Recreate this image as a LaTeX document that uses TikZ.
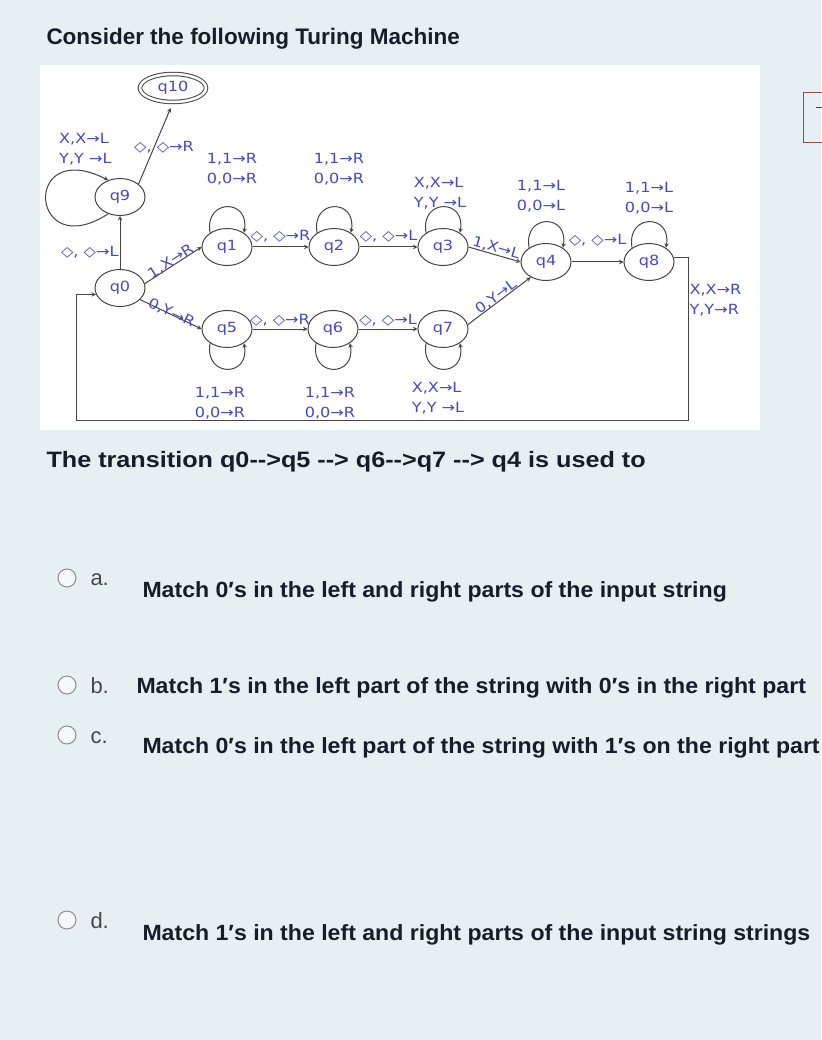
\documentclass[tikz,border=0pt]{standalone}
\usepackage{fontspec}
\setmainfont{Liberation Sans}
\newfontfamily\tmfont{DejaVu Sans}[FakeStretch=1.15]
\newfontfamily\askfont{Liberation Sans}[FakeStretch=1.13]
\newfontfamily\optfont{Liberation Sans}[FakeStretch=1.05]
\usetikzlibrary{shapes,arrows}
\usetikzlibrary{positioning,automata}
\definecolor{pagebg}{HTML}{E6F0F3}
\definecolor{tmblue}{RGB}{72,72,196}
\definecolor{tmgrey}{HTML}{454545}
\definecolor{inkdark}{HTML}{141E28}
\definecolor{boxred}{HTML}{8C5050}
\tikzset{
  every state/.style={ellipse, draw=tmgrey, line width=1pt, minimum width=50pt,
    minimum height=37pt, inner sep=0pt, text=tmblue, font=\tmfont\fontsize{14}{17}\selectfont},
  accepting/.style={double, double distance=2.5pt, minimum width=66pt, minimum height=28pt},
  tmlabel/.style={text=tmblue, font=\tmfont\fontsize{14}{20}\selectfont, align=left, inner sep=1pt},
  loop high/.style={out=100, in=80, min distance=35pt},
  loop low/.style={out=-100, in=-80, min distance=35pt},
  radio/.style={circle, draw=black!45, fill=white!60!pagebg, line width=1pt, minimum size=18pt, inner sep=0pt},
  optletter/.style={anchor=base west, inner sep=0pt, text=black!72, font=\fontsize{22}{26}\selectfont},
  opttext/.style={anchor=base west, inner sep=0pt, text=inkdark, font=\optfont\bfseries\fontsize{22}{26}\selectfont}
}

\begin{document}
\begin{tikzpicture}[> = stealth, x=1pt, y=1pt, on grid, line width=1pt, color=tmgrey]
        % page and white panel
        \fill[pagebg] (0,0) rectangle (821,-1040);
        \useasboundingbox (0,0) rectangle (821,-1040);
        \fill[white] (40,-65) rectangle (760,-430);
        \draw[boxred, line width=0.8pt] (803,-92) rectangle (840,-142);
        \draw[black!70] (816,-108) -- (826,-108);

        \node[anchor=base west, inner sep=0pt, text=inkdark, font=\bfseries\fontsize{22.5}{27}\selectfont]
             (title) at (46,-45) {Consider the following Turing Machine};

        \node[state]           (q0) at (120,-288)                        {q0};
        \node[state]           (q9) [above=91pt of q0]                   {q9};
        \node[state,accepting] (q10) [above right=109pt and 53pt of q9]  {q10};
        \node[state]           (q1) [above right=41pt and 107pt of q0]   {q1};
        \node[state]           (q5) [below right=41pt and 107pt of q0]   {q5};
        \node[state]           (q2) [right=107pt of q1]                  {q2};
        \node[state]           (q3) [right=109pt of q2]                  {q3};
        \node[state]           (q4) [below right=15pt and 103pt of q3]   {q4};
        \node[state]           (q8) [right=103pt of q4]                  {q8};
        \node[state]           (q6) [right=106pt of q5]                  {q6};
        \node[state]           (q7) [right=110pt of q6]                  {q7};

        \coordinate (back1) at (688,-420);
        \coordinate (back2) at (76,-420);

        \path[->] (q0.10)  edge node[tmlabel, sloped, above=-3pt] {1,X→R} (q1.west)
                  (q0.-30) edge node[tmlabel, sloped, above=-6pt] {0,Y→R} (q5.west)
                  (q0)     edge node[tmlabel, left, pos=0.32] {◇, ◇→L} (q9)
                  (q9.35)  edge [shorten >=6pt] node[tmlabel, pos=0.45, xshift=10pt] {◇, ◇→R} (q10.south)
                  (q1.140) edge [loop high] node[tmlabel, above=20pt, xshift=5pt] {1,1→R\\0,0→R} (q1.40)
                  (q1)     edge node[tmlabel, above=3pt] {◇, ◇→R} (q2)
                  (q2.140) edge [loop high] node[tmlabel, above=20pt, xshift=5pt] {1,1→R\\0,0→R} (q2.40)
                  (q2)     edge node[tmlabel, above=3pt] {◇, ◇→L} (q3)
                  (q3.140) edge [loop high] node[tmlabel, above=-4pt, xshift=-3pt] {X,X→L\\Y,Y →L} (q3.40)
                  (q3.east) edge node[tmlabel, sloped, above=-1pt] {1,X→L} (q4.west)
                  (q4.140) edge [loop high] node[tmlabel, above=8pt, xshift=-5pt] {1,1→L\\0,0→L} (q4.40)
                  (q4)     edge node[tmlabel, above=14pt] {◇, ◇→L} (q8)
                  (q8.140) edge [loop high] node[tmlabel, above=6pt] {1,1→L\\0,0→L} (q8.40)
                  (q5.220) edge [loop low] node[tmlabel, below=17pt, xshift=-7pt] {1,1→R\\0,0→R} (q5.320)
                  (q5)     edge node[tmlabel, above=1pt] {◇, ◇→R} (q6)
                  (q6.220) edge [loop low] node[tmlabel, below=17pt, xshift=-3pt] {1,1→R\\0,0→R} (q6.320)
                  (q6)     edge node[tmlabel, above=1pt] {◇, ◇→L} (q7)
                  (q7.220) edge [loop low] node[tmlabel, below=12pt, xshift=-5pt] {X,X→L\\Y,Y →L} (q7.320)
                  (q7.10)  edge node[tmlabel, sloped, above=-2pt] {0,Y→L} (q4.225);

        % big loop on q9 and the way back to q0
        \draw[->] (q9.235) .. controls +(-79,-51) and +(-87,44) .. (q9.125)
              node[tmlabel, pos=0.85, above=4pt, xshift=10pt] {X,X→L\\Y,Y →L};
        \draw[->] (q8.10) -| (back1) node[tmlabel, right, pos=0.63] {X,X→R\\Y,Y→R}
              -- (back2) |- (q0.195);

        % question and answers
        \node[anchor=base west, inner sep=0pt, text=inkdark, font=\askfont\bfseries\fontsize{22.3}{27}\selectfont]
             (ask) at (46,-467) {The transition q0-{}->q5 -{}-> q6-{}->q7 -{}-> q4 is used to};

        \node[radio] (ra) at (67,-578) {};
        \node[optletter] (la) at (90,-585) {a.};
        \node[opttext] (ta) at (142,-597) {Match 0′s in the left and right parts of the input string};
        \node[radio] (rb) at (67,-685) {};
        \node[optletter] (lb) at (90,-693) {b.};
        \node[opttext] (tb) at (136,-693) {Match 1′s in the left part of the string with 0′s in the right part};
        \node[radio] (rc) at (67,-735) {};
        \node[optletter] (lc) at (90,-743) {c.};
        \node[opttext] (tc) at (142,-753) {Match 0′s in the left part of the string with 1′s on the right part};
        \node[radio] (rd) at (67,-920) {};
        \node[optletter] (ld) at (90,-928) {d.};
        \node[opttext] (td) at (142,-940) {Match 1′s in the left and right parts of the input string strings};
      \end{tikzpicture}
\end{document}
